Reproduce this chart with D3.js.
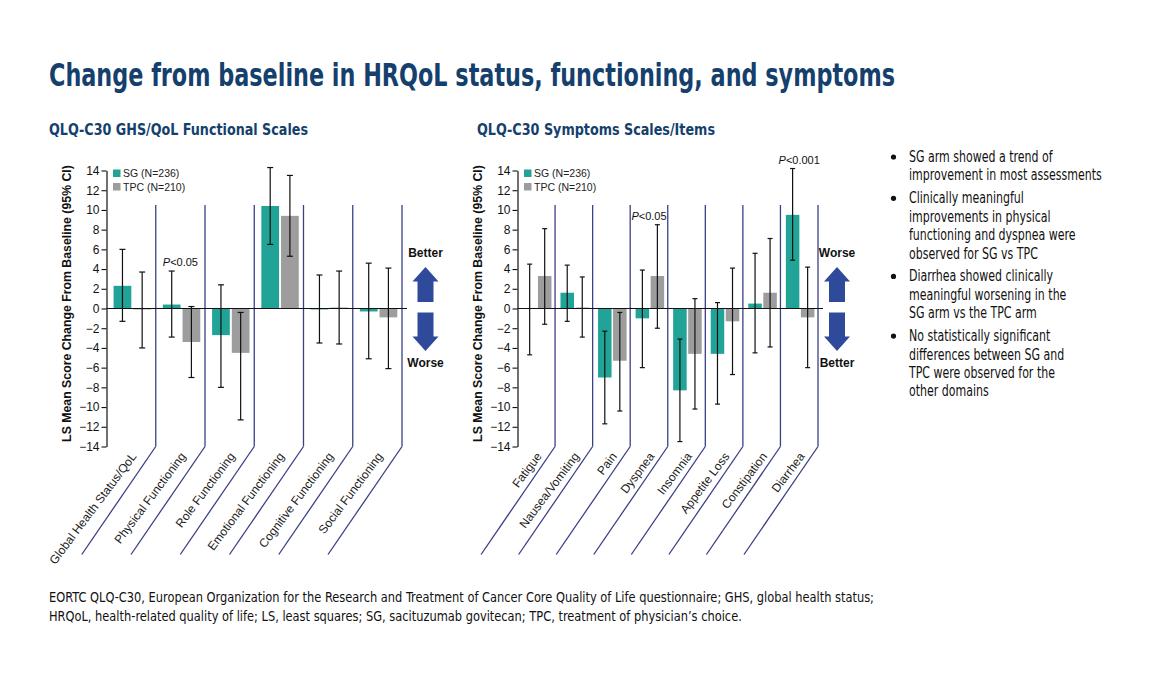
<!DOCTYPE html>
<html>
<head>
<meta charset="utf-8">
<script src="https://cdn.jsdelivr.net/npm/d3@7"></script>
<style>
  body { margin: 0; background: #fff; }
</style>
</head>
<body>
<script>
var tickValues = [-14, -12, -10, -8, -6, -4, -2, 0, 2, 4, 6, 8, 10, 12, 14];

// QLQ-C30 GHS/QoL functional scales
var funcCategories = ['Global Health Status/QoL', 'Physical Functioning', 'Role Functioning',
    'Emotional Functioning', 'Cognitive Functioning', 'Social Functioning'];
var funcSG      = [2.3, 0.4, -2.7, 10.4, -0.1, -0.3];
var funcSGLow   = [-1.3, -2.9, -8.0, 6.5, -3.5, -5.1];
var funcSGHigh  = [6.0, 3.8, 2.4, 14.3, 3.4, 4.6];
var funcTPC     = [-0.1, -3.4, -4.5, 9.4, 0.1, -0.9];
var funcTPCLow  = [-4.0, -7.0, -11.3, 5.3, -3.6, -6.1];
var funcTPCHigh = [3.7, 0.2, -0.4, 13.5, 3.8, 4.1];
var funcPvalues = ['', '0.05', '', '', '', ''];

// QLQ-C30 symptom scales/items
var symCategories = ['Fatigue', 'Nausea/Vomiting', 'Pain', 'Dyspnea', 'Insomnia',
    'Appetite Loss', 'Constipation', 'Diarrhea'];
var symSG      = [0.0, 1.6, -7.0, -1.0, -8.3, -4.6, 0.5, 9.5];
var symSGLow   = [-4.7, -1.3, -11.7, -6.0, -13.5, -9.7, -4.5, 4.9];
var symSGHigh  = [4.5, 4.4, -2.3, 3.9, -3.1, 0.6, 5.6, 14.2];
var symTPC     = [3.3, 0.1, -5.3, 3.3, -4.6, -1.3, 1.6, -0.9];
var symTPCLow  = [-1.6, -2.9, -10.4, -2.0, -10.2, -6.7, -3.9, -6.0];
var symTPCHigh = [8.1, 3.2, -0.4, 8.5, 1.0, 4.1, 7.1, 4.2];
var symPvalues = ['', '', '', '0.05', '', '', '', '0.001'];

var seriesNames = ['SG', 'TPC'];
var legendLabels = ['SG (N=236)', 'TPC (N=210)'];

var bullets = [
    ['SG arm showed a trend of', 'improvement in most assessments'],
    ['Clinically meaningful', 'improvements in physical', 'functioning and dyspnea were', 'observed for SG vs TPC'],
    ['Diarrhea showed clinically', 'meaningful worsening in the', 'SG arm vs the TPC arm'],
    ['No statistically significant', 'differences between SG and', 'TPC were observed for the', 'other domains']
];

var footnotes = [
    'EORTC QLQ-C30, European Organization for the Research and Treatment of Cancer Core Quality of Life questionnaire; GHS, global health status;',
    'HRQoL, health-related quality of life; LS, least squares; SG, sacituzumab govitecan; TPC, treatment of physician\u2019s choice.'
];

var colorSG = '#22a398',
    colorTPC = '#9d9d9d',
    colorDivider = '#3c3f86',
    colorArrow = '#2f4a9b',
    colorTitle = '#153f6d',
    narrow = '"Liberation Sans Narrow", "DejaVu Sans Condensed", "Roboto", sans-serif',
    arial = '"Liberation Sans", Arial, sans-serif';

var svg = d3.select('body')
        .append('svg')
        .attr('width', 1150)
        .attr('height', 700);

svg.append('rect').attr('width', 1150).attr('height', 700).attr('fill', '#fff');

// squeeze a text line horizontally, as the condensed face of the original
function condense(sel, k) {
    sel.each(function() {
        var w = this.getComputedTextLength();
        d3.select(this).attr('textLength', w * k).attr('lengthAdjust', 'spacingAndGlyphs');
    });
}

// Title + panel titles
svg.append('text')
        .attr('x', 49).attr('y', 86)
        .attr('fill', colorTitle)
        .attr('textLength', 846).attr('lengthAdjust', 'spacingAndGlyphs')
        .style('font-family', narrow).style('font-size', '31.5px').style('font-weight', 'bold')
        .text('Change from baseline in HRQoL status, functioning, and symptoms');

svg.append('text')
        .attr('x', 49).attr('y', 135)
        .attr('fill', colorTitle)
        .attr('textLength', 259).attr('lengthAdjust', 'spacingAndGlyphs')
        .style('font-family', narrow).style('font-size', '16.5px').style('font-weight', 'bold')
        .text('QLQ-C30 GHS/QoL Functional Scales');

svg.append('text')
        .attr('x', 477).attr('y', 135)
        .attr('fill', colorTitle)
        .attr('textLength', 238).attr('lengthAdjust', 'spacingAndGlyphs')
        .style('font-family', narrow).style('font-size', '16.5px').style('font-weight', 'bold')
        .text('QLQ-C30 Symptoms Scales/Items');

var y = d3.scaleLinear().domain([-14, 14]).range([446.5, 170.5]);

function drawPanel(opt) {
    var g = svg.append('g');
    var x = d3.scaleBand().domain(opt.categories).range([opt.x0, opt.x1]);
    var xs = d3.scaleBand().domain(seriesNames).range([0, x.bandwidth()])
            .paddingInner(0.1).paddingOuter(0.3).align(0.6);
    var capW = opt.capW;

    var rows = opt.categories.map(function(c, i) {
        return {
            cat: c,
            p: opt.p[i],
            vals: [
                {s: 'SG', v: opt.sg[i], lo: opt.sgLow[i], hi: opt.sgHigh[i]},
                {s: 'TPC', v: opt.tpc[i], lo: opt.tpcLow[i], hi: opt.tpcHigh[i]}
            ]
        };
    });

    // dividers with slanted label guides
    opt.categories.forEach(function(c) {
        var xd = x(c) + x.bandwidth();
        g.append('line')
                .attr('x1', xd).attr('x2', xd)
                .attr('y1', y(10.5)).attr('y2', y(-14))
                .attr('stroke', colorDivider).attr('stroke-width', 1.3);
        g.append('line')
                .attr('x1', xd).attr('x2', xd - 74)
                .attr('y1', y(-14)).attr('y2', y(-14) + 108)
                .attr('stroke', colorDivider).attr('stroke-width', 1.3);
    });

    // bars
    var cat = g.selectAll('g.cat').data(rows).enter().append('g')
            .attr('transform', function(d) { return 'translate(' + x(d.cat) + ',0)'; });

    cat.selectAll('rect').data(function(d) { return d.vals; }).enter().append('rect')
            .attr('x', function(d) { return xs(d.s); })
            .attr('width', xs.bandwidth())
            .attr('y', function(d) { return y(Math.max(0, d.v)); })
            .attr('height', function(d) { return Math.abs(y(d.v) - y(0)); })
            .attr('fill', function(d) { return d.s === 'SG' ? colorSG : colorTPC; });

    // zero line
    g.append('line')
            .attr('x1', opt.x0).attr('x2', opt.x1 + 5)
            .attr('y1', y(0)).attr('y2', y(0))
            .attr('stroke', '#111').attr('stroke-width', 1.1);

    // 95% CI whiskers
    var wk = cat.selectAll('g.wk').data(function(d) { return d.vals; }).enter().append('g')
            .attr('stroke', '#111').attr('stroke-width', 1.2);
    wk.append('line')
            .attr('x1', function(d) { return xs(d.s) + xs.bandwidth() / 2; })
            .attr('x2', function(d) { return xs(d.s) + xs.bandwidth() / 2; })
            .attr('y1', function(d) { return y(d.lo); })
            .attr('y2', function(d) { return y(d.hi); });
    ['lo', 'hi'].forEach(function(k) {
        wk.append('line')
                .attr('x1', function(d) { return xs(d.s) + xs.bandwidth() / 2 - capW / 2; })
                .attr('x2', function(d) { return xs(d.s) + xs.bandwidth() / 2 + capW / 2; })
                .attr('y1', function(d) { return y(d[k]); })
                .attr('y2', function(d) { return y(d[k]); });
    });

    // P-value labels
    var pl = cat.filter(function(d) { return d.p; }).append('text')
            .attr('x', x.bandwidth() / 2)
            .attr('y', function(d) { return y(d3.max(d.vals, function(v) { return v.hi; })) - 5; })
            .attr('text-anchor', 'middle')
            .style('font-family', arial).style('font-size', '11px').attr('fill', '#111');
    pl.append('tspan').style('font-style', 'italic').text('P');
    pl.append('tspan').text(function(d) { return '<' + d.p; });

    // category labels
    cat.append('text')
            .attr('transform', 'translate(' + (x.bandwidth() / 2 + 6) + ',' + (y(-14) + 10) + ') rotate(-53)')
            .attr('text-anchor', 'end')
            .style('font-family', arial).style('font-size', '12px').attr('fill', '#222')
            .text(function(d) { return d.cat; });

    // y axis
    var ax = g.append('g')
            .attr('transform', 'translate(' + opt.x0 + ',0)')
            .call(d3.axisLeft(y).tickValues(tickValues).tickSize(5).tickSizeOuter(0).tickPadding(2));
    ax.select('.domain').attr('stroke', '#111').attr('stroke-width', 1.2);
    ax.selectAll('.tick line').attr('stroke', '#111').attr('stroke-width', 1.1);
    ax.selectAll('.tick text')
            .style('font-family', arial).style('font-size', '12px').attr('fill', '#111');

    g.append('text')
            .attr('transform', 'translate(' + opt.labelX + ',' + (y(0) - 5) + ') rotate(-90)')
            .attr('text-anchor', 'middle')
            .style('font-family', arial).style('font-size', '12.3px').style('font-weight', 'bold')
            .attr('fill', '#111')
            .text('LS Mean Score Change From Baseline (95% CI)');

    // legend
    legendLabels.forEach(function(l, i) {
        g.append('rect')
                .attr('x', opt.x0 + 6.5).attr('y', 169.5 + i * 13.5)
                .attr('width', 7.5).attr('height', 7.5)
                .attr('fill', i === 0 ? colorSG : colorTPC);
        g.append('text')
                .attr('x', opt.x0 + 16.5).attr('y', 177 + i * 13.5)
                .style('font-family', arial).style('font-size', '10.5px').attr('fill', '#222')
                .text(l);
    });

    // direction arrows
    var ax0 = opt.arrowX, y0 = y(0);
    g.append('text')
            .attr('x', ax0).attr('y', y0 - 52)
            .attr('text-anchor', 'middle')
            .style('font-family', arial).style('font-size', '12px').style('font-weight', 'bold')
            .attr('fill', '#111')
            .text(opt.upLabel);
    g.append('path')
            .attr('d', 'M' + ax0 + ',' + (y0 - 41.5) +
                    'L' + (ax0 + 13) + ',' + (y0 - 27) +
                    'L' + (ax0 + 8) + ',' + (y0 - 27) +
                    'L' + (ax0 + 8) + ',' + (y0 - 6.5) +
                    'L' + (ax0 - 8) + ',' + (y0 - 6.5) +
                    'L' + (ax0 - 8) + ',' + (y0 - 27) +
                    'L' + (ax0 - 13) + ',' + (y0 - 27) + 'Z')
            .attr('fill', colorArrow);
    g.append('path')
            .attr('d', 'M' + ax0 + ',' + (y0 + 42.5) +
                    'L' + (ax0 + 13) + ',' + (y0 + 28) +
                    'L' + (ax0 + 8) + ',' + (y0 + 28) +
                    'L' + (ax0 + 8) + ',' + (y0 + 4) +
                    'L' + (ax0 - 8) + ',' + (y0 + 4) +
                    'L' + (ax0 - 8) + ',' + (y0 + 28) +
                    'L' + (ax0 - 13) + ',' + (y0 + 28) + 'Z')
            .attr('fill', colorArrow);
    g.append('text')
            .attr('x', ax0).attr('y', y0 + 58)
            .attr('text-anchor', 'middle')
            .style('font-family', arial).style('font-size', '12px').style('font-weight', 'bold')
            .attr('fill', '#111')
            .text(opt.downLabel);
}

drawPanel({
    categories: funcCategories,
    sg: funcSG, sgLow: funcSGLow, sgHigh: funcSGHigh,
    tpc: funcTPC, tpcLow: funcTPCLow, tpcHigh: funcTPCHigh,
    p: funcPvalues,
    x0: 106.5, x1: 402, capW: 6, labelX: 71, arrowX: 425.5,
    upLabel: 'Better', downLabel: 'Worse'
});

drawPanel({
    categories: symCategories,
    sg: symSG, sgLow: symSGLow, sgHigh: symSGHigh,
    tpc: symTPC, tpcLow: symTPCLow, tpcHigh: symTPCHigh,
    p: symPvalues,
    x0: 517.5, x1: 818, capW: 5, labelX: 482, arrowX: 837,
    upLabel: 'Worse', downLabel: 'Better'
});

// Key points
var by = 162;
bullets.forEach(function(b) {
    svg.append('circle').attr('cx', 893.5).attr('cy', by - 5).attr('r', 2.6).attr('fill', '#111');
    b.forEach(function(line, j) {
        svg.append('text')
                .attr('x', 909).attr('y', by + j * 18.4)
                .style('font-family', narrow).style('font-size', '15px').attr('fill', '#111')
                .text(line)
                .call(condense, 0.815);
    });
    by += b.length * 18.4 + 4.5;
});

// Footnote
footnotes.forEach(function(f, i) {
    svg.append('text')
            .attr('x', 49).attr('y', 602 + i * 19)
            .style('font-family', narrow).style('font-size', '13.8px').attr('fill', '#111')
            .text(f)
            .call(condense, 0.92);
});
</script>
</body>
</html>
